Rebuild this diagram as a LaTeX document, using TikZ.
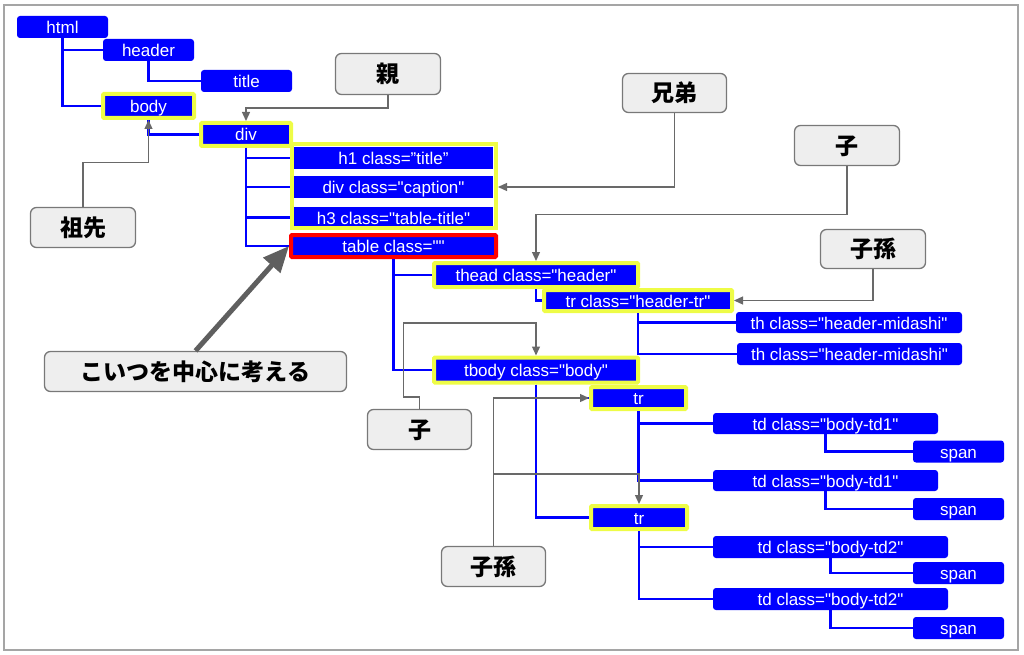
\documentclass[tikz,border=0pt]{standalone}
\usepackage{fontspec}
\setmainfont{Liberation Sans}[Ligatures=TeXOff]
\newfontfamily\jpfont{Noto Sans CJK JP}
\usetikzlibrary{arrows.meta}
\definecolor{bl}{RGB}{0,0,255}
\definecolor{yel}{RGB}{238,252,70}
\definecolor{gline}{RGB}{105,105,105}
\definecolor{gthick}{RGB}{95,95,95}
\definecolor{gfill}{RGB}{238,238,238}
\definecolor{gbord}{RGB}{120,120,120}
\definecolor{frm}{RGB}{165,165,165}
\begin{document}
\begin{tikzpicture}[x=1pt,y=-1pt,
  bbox/.style={rectangle, rounded corners=3pt, fill=bl, inner sep=0pt, text=white,
    font=\fontsize{17}{20}\selectfont, text height=13pt, text depth=0pt},
  sqbox/.style={bbox, rounded corners=0pt},
  ybox/.style={bbox, rounded corners=1pt, draw=yel, line width=4pt},
  rbox/.style={ybox, draw=red},
  gbox/.style={rectangle, rounded corners=6pt, fill=gfill, draw=gbord, line width=1.3pt,
    inner sep=0pt, font=\jpfont\bfseries\fontsize{23}{27}\selectfont, text height=17.8pt, text depth=0pt},
  tree/.style={draw=bl, line width=2.5pt},
  garrow/.style={draw=gline, line width=1.3pt, -{Triangle[length=9pt,width=8pt]}},
  bigarrow/.style={draw=gthick, line width=5pt, -{Triangle[length=26pt,width=22pt]}}
]
\useasboundingbox (0,0) rectangle (1024,655);
\draw[frm, line width=1.5pt] (4,5) rectangle (1018,650);

% tree nodes
\node[bbox, minimum width=91pt, minimum height=22pt] (html) at (62.5,27) {html};
\node[bbox, minimum width=91pt, minimum height=22pt] (header) at (148.5,50) {header};
\node[bbox, minimum width=91pt, minimum height=22pt] (title) at (246.5,81) {title};
\node[ybox, minimum width=91pt, minimum height=24pt] (body) at (148.5,106) {body};
\node[ybox, minimum width=90pt, minimum height=23pt] (div) at (246,134.5) {div};
\node[sqbox, minimum width=199pt, minimum height=22pt] (h1) at (393.5,158) {h1 class=”title”};
\node[sqbox, minimum width=199pt, minimum height=22pt] (caption) at (393.5,187) {div class="caption"};
\node[sqbox, minimum width=199pt, minimum height=21pt] (h3) at (393.5,217.5) {h3 class="table-title"};
\node[draw=yel, line width=4pt, rectangle, inner sep=0pt, minimum width=204pt, minimum height=84pt] (grp) at (394,186) {};
\node[rbox, minimum width=205pt, minimum height=22pt] (table) at (393.5,246) {table class=""};
\node[ybox, minimum width=204pt, minimum height=24pt] (thead) at (536,275) {thead class="header"};
\node[ybox, minimum width=188pt, minimum height=21pt] (trh) at (638,300.5) {tr class="header-tr"};
\node[bbox, minimum width=226pt, minimum height=21pt] (th1) at (849,322.5) {th class="header-midashi"};
\node[bbox, minimum width=225pt, minimum height=22pt] (th2) at (849.5,354) {th class="header-midashi"};
\node[ybox, minimum width=204pt, minimum height=25pt] (tbody) at (536,370) {tbody class="body"};
\node[ybox, minimum width=95pt, minimum height=22pt] (tr1) at (638.5,398) {tr};
\node[ybox, minimum width=96pt, minimum height=23pt] (tr2) at (639,517.5) {tr};
\node[bbox, minimum width=225pt, minimum height=21pt] (td1a) at (825.5,423.5) {td class="body-td1"};
\node[bbox, minimum width=91pt, minimum height=22pt] (span1) at (958.5,451.5) {span};
\node[bbox, minimum width=225pt, minimum height=21pt] (td1b) at (825.5,480.5) {td class="body-td1"};
\node[bbox, minimum width=91pt, minimum height=22pt] (span2) at (958.5,509) {span};
\node[bbox, minimum width=235pt, minimum height=22pt] (td2a) at (830.5,547) {td class="body-td2"};
\node[bbox, minimum width=91pt, minimum height=22pt] (span3) at (958.5,573) {span};
\node[bbox, minimum width=235pt, minimum height=22pt] (td2b) at (830.5,599) {td class="body-td2"};
\node[bbox, minimum width=91pt, minimum height=22pt] (span4) at (958.5,628) {span};

% label nodes
\node[gbox, minimum width=105pt, minimum height=41pt] (oya) at (388,74) {親};
\node[gbox, minimum width=105pt, minimum height=40pt] (sosen) at (83,227.5) {祖先};
\node[gbox, minimum width=104pt, minimum height=39pt] (kyodai) at (674.5,93) {兄弟};
\node[gbox, minimum width=105pt, minimum height=40pt] (koA) at (847,145.5) {子};
\node[gbox, minimum width=105pt, minimum height=39pt] (shisonA) at (873,249) {子孫};
\node[gbox, minimum width=104pt, minimum height=40pt] (koB) at (419.5,429.5) {子};
\node[gbox, minimum width=104pt, minimum height=40pt] (shisonB) at (493.5,566.5) {子孫};
\node[gbox, minimum width=302pt, minimum height=40pt] (koitsu) at (195.5,371.5) {こいつを中心に考える};
\coordinate (sb) at (493.5,474);

% tree connectors
\draw[tree] (html.south) |- (header.west);
\draw[tree] (html.south) |- (body.west);
\draw[tree] (header.south) |- (title.west);
\draw[tree] (body.south) |- (div.west);
\draw[tree] (div.south) |- (h1.west -| grp.west);
\draw[tree] (div.south) |- (caption.west -| grp.west);
\draw[tree] (div.south) |- (h3.west -| grp.west);
\draw[tree] (div.south) |- (table.west);
\draw[tree] (table.south) |- (thead.west);
\draw[tree] (table.south) |- (tbody.west);
\draw[tree] (thead.south) |- (trh.west);
\draw[tree] (trh.south) |- (th1.west);
\draw[tree] (trh.south) |- (th2.west);
\draw[tree] (tbody.south) |- (tr1.west);
\draw[tree] (tbody.south) |- (tr2.west);
\draw[tree] (tr1.south) |- (td1a.west);
\draw[tree] (tr1.south) |- (td1b.west);
\draw[tree] (tr2.south) |- (td2a.west);
\draw[tree] (tr2.south) |- (td2b.west);
\draw[tree] (td1a.south) |- (span1.west);
\draw[tree] (td1b.south) |- (span2.west);
\draw[tree] (td2a.south) |- (span3.west);
\draw[tree] (td2b.south) |- (span4.west);

% gray arrows
\draw[garrow] (oya.south) -- ++(0,13) -| (div.north);
\draw[garrow] (sosen.north) -- ++(0,-44) -| (body.south);
\draw[garrow] (kyodai.south) |- (caption.east -| grp.east);
\draw[garrow] (koA.south) -- ++(0,48) -| (thead.north);
\draw[garrow] (shisonA.south) |- (trh.east);
\draw[garrow] (koB.north) -- ++(0,-12) -| ++(-16,-74) -| (tbody.north);
\draw[garrow] (shisonB.north) |- (tr1.west);
\draw[garrow] (sb) -| (tr2.north);
\draw[bigarrow] (koitsu.north) -- (table.west);
\end{tikzpicture}
\end{document}
